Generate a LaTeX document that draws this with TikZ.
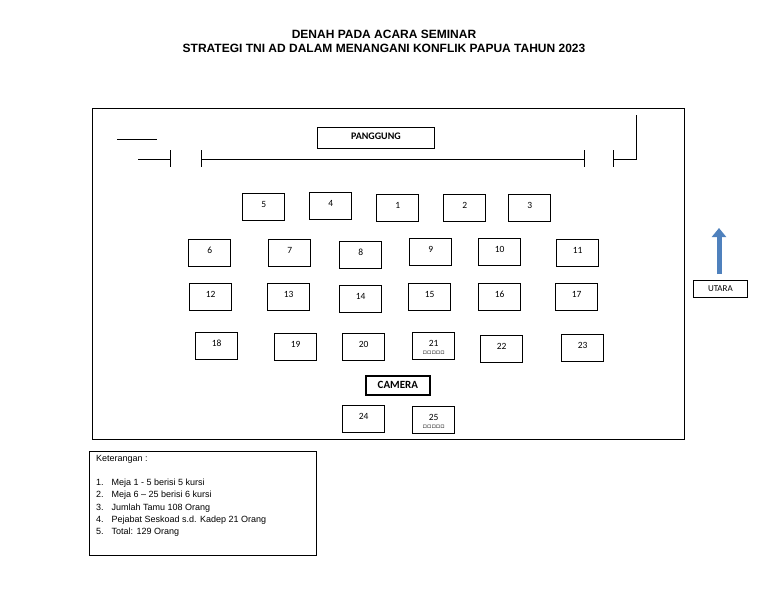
\documentclass[tikz,border=0pt]{standalone}
\usepackage{fontspec}
\setmainfont{Liberation Sans}
\newfontfamily\calfont{Carlito}
\newfontfamily\djfont{DejaVu Sans}
\usetikzlibrary{arrows.meta}
\begin{document}
\begin{tikzpicture}[x=1pt,y=-1pt,
  tbl/.style={draw,line width=1.4pt,inner sep=0pt,font=\calfont\fontsize{9.5}{10}\selectfont,anchor=north west},
  ln/.style={line width=1pt}]
\useasboundingbox (0,0) rectangle (768,594);
\node[font=\bfseries\fontsize{12}{14}\selectfont,align=center] (title) at (384,41) {DENAH PADA ACARA SEMINAR\\STRATEGI TNI AD DALAM MENANGANI KONFLIK PAPUA TAHUN 2023};
\draw[line width=0.9pt] (92,108) rectangle (684,439);
\node[draw,line width=0.9pt,minimum width=117pt,minimum height=21pt,inner sep=0pt,anchor=north west,font=\calfont\bfseries\fontsize{10}{11}\selectfont] (pang) at (317,127) {\raisebox{4pt}{PANGGUNG}};
\draw[ln] (117,139) -- (157,139);
\draw[ln] (138,159) -- (170,159);
\draw[ln] (170,150) -- (170,167);
\draw[ln] (201,150) -- (201,167);
\draw[ln] (201,159) -- (584,159);
\draw[ln] (584,150) -- (584,167);
\draw[ln] (613,150) -- (613,167);
\draw[ln] (613,159) -- (636,159) -- (636,115);
\foreach \n/\x/\y in {5/242/193,4/309/192,1/376/194,2/443/194,3/508/194,
 6/188/239,7/268/239,8/339/241,9/409/238,10/478/238,11/556/239,
 12/189/283,13/267/283,14/339/285,15/408/283,16/478/283,17/555/283,
 18/195/332,19/274/333,20/342/333,21/412/332,22/480/335,23/561/334,
 24/342/405,25/412/406}
  \node[tbl,minimum width=42pt,minimum height=27pt] (t\n) at (\x,\y) {\raisebox{5pt}{\n}};
\foreach \n in {21,25}
  \node[font=\djfont\fontsize{6.5}{6.5}\selectfont,inner sep=0pt] (d\n) at ([yshift=-6.5pt]t\n.center) {▫▫▫▫▫};
\node[draw,line width=1.8pt,minimum width=64pt,minimum height=19pt,inner sep=0pt,anchor=north west,font=\calfont\bfseries\fontsize{11}{12}\selectfont] (cam) at (365,375) {CAMERA};
\coordinate (a1) at (719,274);
\coordinate (a2) at (719,228);
\draw[line width=5pt,-{Triangle[length=9pt,width=14pt]},color={rgb,255:red,79;green,129;blue,189}] (a1) -- (a2);
\node[draw,line width=0.8pt,minimum width=54pt,minimum height=17pt,inner sep=0pt,anchor=north west,font=\calfont\fontsize{9}{10}\selectfont] (ut) at (693,280) {UTARA};
\node[draw,line width=0.8pt,minimum width=227pt,minimum height=104pt,anchor=north west,inner sep=0pt] (ket) at (89,451) {};
\node[anchor=north west,align=left,font=\fontsize{9}{12.3}\selectfont,inner sep=0pt] (kt) at (96,455) {Keterangan :\\[12pt]
1.\hspace{8pt}Meja 1 - 5 berisi 5 kursi\\
2.\hspace{8pt}Meja 6 -- 25 berisi 6 kursi\\
3.\hspace{8pt}Jumlah Tamu 108 Orang\\
4.\hspace{8pt}Pejabat Seskoad s.d. Kadep 21 Orang\\
5.\hspace{8pt}Total: 129 Orang};
\end{tikzpicture}
\end{document}
